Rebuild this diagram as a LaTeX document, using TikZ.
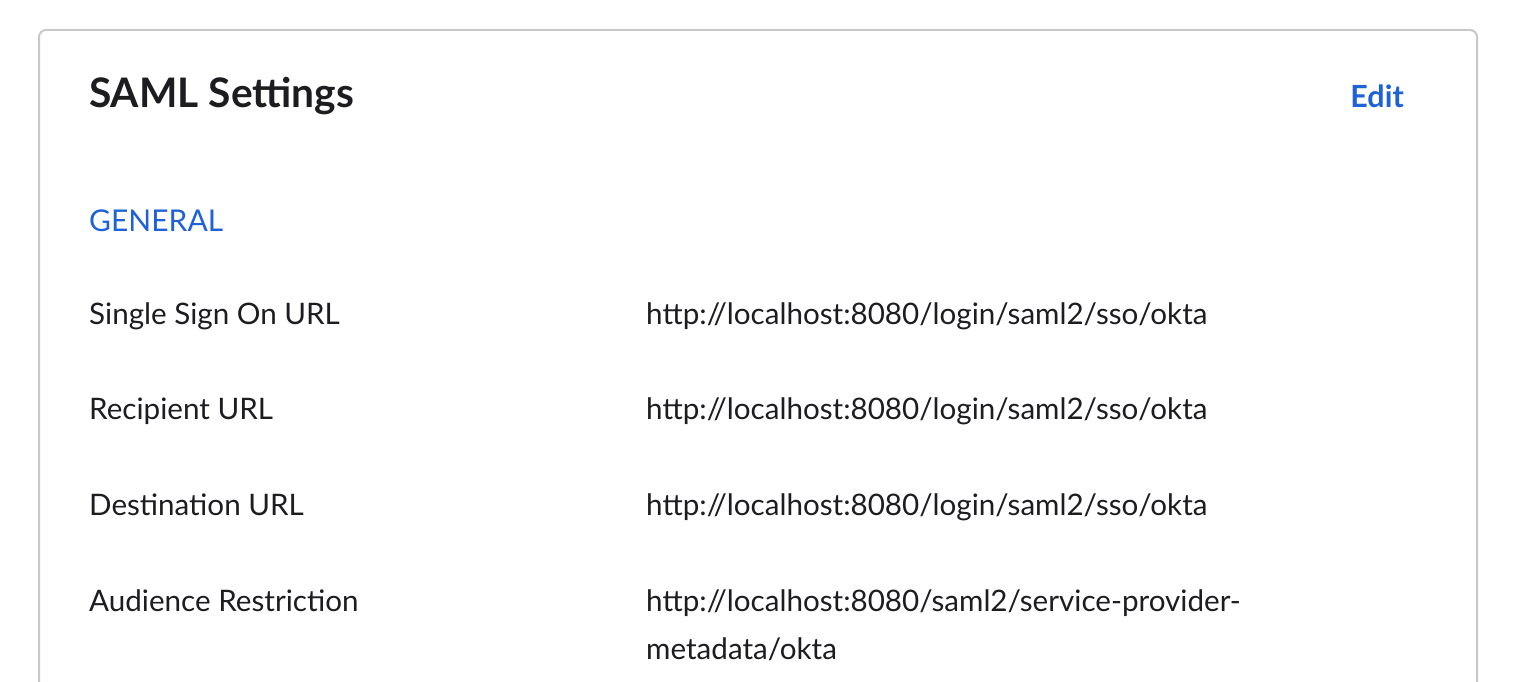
\documentclass[tikz,border=0pt]{standalone}
\usepackage{fontspec}
\setmainfont{Lato}
\definecolor{oktablue}{HTML}{1F62D8}
\definecolor{txt}{HTML}{1D1D21}
\definecolor{frame}{HTML}{C8C8CC}
\begin{document}
\begin{tikzpicture}[x=1pt,y=-1pt,
  lbl/.style={anchor=base west,inner sep=0,text=txt,font=\fontsize{29.6}{34}\selectfont},
  val/.style={lbl}]
\useasboundingbox (0,0) rectangle (1514,682);
\draw[frame,line width=2,rounded corners=7] (39,700) -- (39,30) -- (1477,30) -- (1477,700);
\node[anchor=base west,inner sep=0,text=txt,font=\fontsize{40.7}{46}\selectfont\bfseries] (title) at (89,108) {SAML Settings};
\node[anchor=base east,inner sep=0,text=oktablue,font=\fontsize{30.5}{34}\selectfont\bfseries] (edit) at (1404,108) {Edit};
\node[anchor=base west,inner sep=0,text=oktablue,font=\fontsize{30}{34}\selectfont] (gen) at (89,231) {GENERAL};
\node[lbl] (l1) at (89,324) {Single Sign On URL};
\node[lbl] (l2) at (89,419) {Recipient URL};
\node[lbl] (l3) at (89,515) {Destination URL};
\node[lbl] (l4) at (89,611) {Audience Restriction};
\node[val] (v1) at (646,324) {http://localhost:8080/login/saml2/sso/okta};
\node[val] (v2) at (646,419) {http://localhost:8080/login/saml2/sso/okta};
\node[val] (v3) at (646,515) {http://localhost:8080/login/saml2/sso/okta};
\node[val] (v4) at (646,611) {http://localhost:8080/saml2/service-provider-};
\node[val] (v5) at (646,659) {metadata/okta};
\end{tikzpicture}
\end{document}
